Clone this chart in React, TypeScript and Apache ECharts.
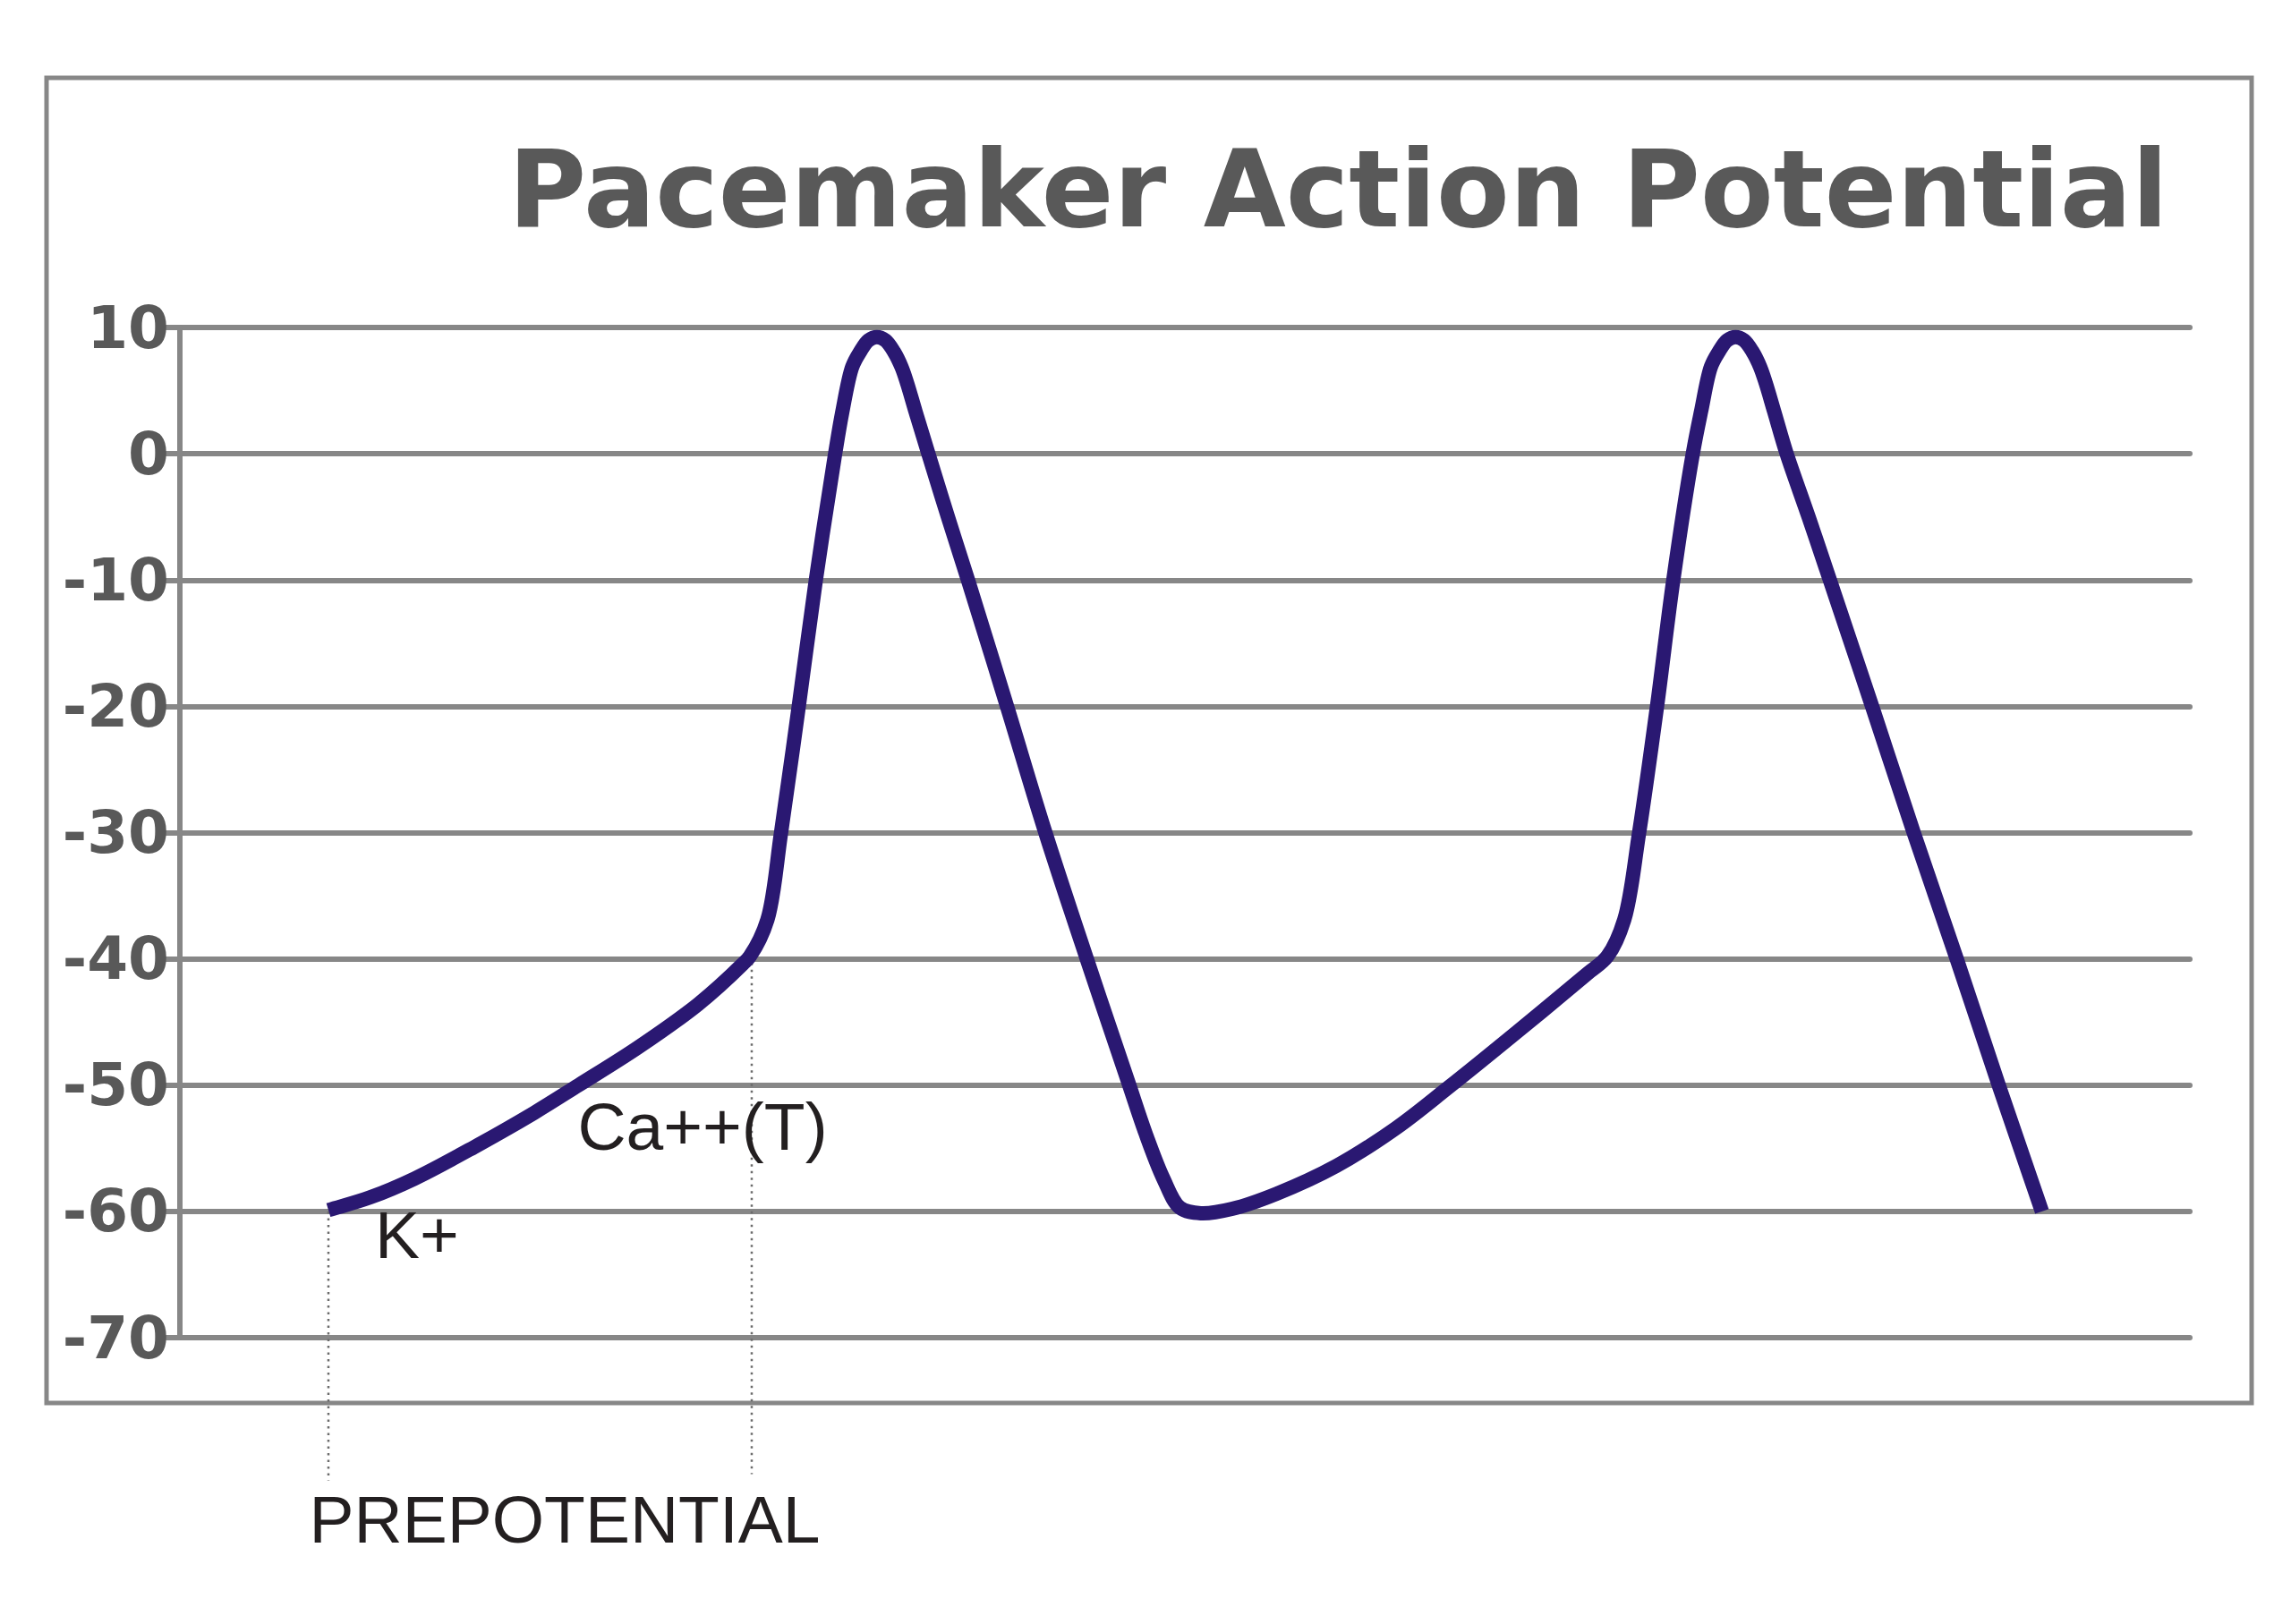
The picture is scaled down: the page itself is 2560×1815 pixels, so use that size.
import React, { useEffect, useRef } from "react";
import * as echarts from "echarts";

// Membrane potential (mV) versus time (arbitrary units, 0..1000 across the plot)
const timeUnits = [
  73.9, 94.5, 116.8, 146.5, 176.2, 198.4, 228.1, 257.8, 280.1, 283.6,
  292.3, 299.1, 307.9, 316.4, 326.0, 329.6, 334.5, 338.4, 342.6, 346.8,
  351.0, 355.3, 359.0, 361.8, 366.0, 372.4, 382.1, 392.1, 411.5, 430.6,
  451.2, 471.5, 480.4, 489.3, 497.5, 507.9, 523.5, 545.7, 575.4, 605.1,
  631.0, 664.4, 700.0, 710.2, 718.6, 726.0, 734.9, 743.0, 752.7, 756.8,
  761.7, 765.6, 769.8, 774.0, 778.2, 782.5, 786.2, 789.0, 793.2, 799.4,
  810.3, 820.9, 841.9, 862.6, 884.0, 904.9, 926.4,
];
const potential = [
  -59.9, -58.9, -57.4, -54.9, -52.2, -50.0, -47.0, -43.6, -40.4, -39.8,
  -36.9, -30, -20, -10, 0, 3.34, 6.88, 8.07, 8.98, 9.24,
  8.98, 8.07, 6.88, 5.6, 3.34, 0, -5, -10, -20, -30,
  -40, -49.6, -53.8, -57.4, -59.7, -60.15, -59.8, -58.6, -56.4, -53.4,
  -50.2, -45.9, -41.2, -39.8, -36.9, -30, -20, -10, 0, 3.34,
  6.88, 8.07, 8.98, 9.24, 8.98, 8.07, 6.88, 5.6, 3.34, 0,
  -5, -10, -20, -30, -40, -50, -60,
];

// Y axis ticks
const yMin = -70;
const yMax = 10;
const yStep = 10;

// Prepotential marker lines (time, top potential, bottom potential)
const markerTimes = [73.9, 284.5];
const markerTops = [-60, -39.8];
const markerBottoms = [-81.3, -80.8];

const titleText = "Pacemaker Action Potential";
const labelK = "K+";
const labelCa = "Ca++(T)";
const labelPre = "PREPOTENTIAL";

// Centripetal Catmull-Rom spline through screen points, as cubic Bezier path data
function splinePath(pts: number[][]): string {
  const n = pts.length;
  let d = `M${pts[0][0]},${pts[0][1]}`;
  const alpha = 0.5;
  for (let i = 0; i < n - 1; i++) {
    const p1 = pts[i];
    const p2 = pts[i + 1];
    const p0 = i > 0 ? pts[i - 1] : [2 * p1[0] - p2[0], 2 * p1[1] - p2[1]];
    const p3 = i < n - 2 ? pts[i + 2] : [2 * p2[0] - p1[0], 2 * p2[1] - p1[1]];
    const d1 = Math.pow(Math.hypot(p1[0] - p0[0], p1[1] - p0[1]), alpha) || 1e-6;
    const d2 = Math.pow(Math.hypot(p2[0] - p1[0], p2[1] - p1[1]), alpha) || 1e-6;
    const d3 = Math.pow(Math.hypot(p3[0] - p2[0], p3[1] - p2[1]), alpha) || 1e-6;
    const d1s = d1 * d1;
    const d2s = d2 * d2;
    const d3s = d3 * d3;
    const k1 = 3 * d1 * (d1 + d2);
    const k2 = 3 * d3 * (d3 + d2);
    const b1x = (d1s * p2[0] - d2s * p0[0] + (2 * d1s + 3 * d1 * d2 + d2s) * p1[0]) / k1;
    const b1y = (d1s * p2[1] - d2s * p0[1] + (2 * d1s + 3 * d1 * d2 + d2s) * p1[1]) / k1;
    const b2x = (d3s * p1[0] - d2s * p3[0] + (2 * d3s + 3 * d3 * d2 + d2s) * p2[0]) / k2;
    const b2y = (d3s * p1[1] - d2s * p3[1] + (2 * d3s + 3 * d3 * d2 + d2s) * p2[1]) / k2;
    d += ` C${b1x.toFixed(2)},${b1y.toFixed(2)} ${b2x.toFixed(2)},${b2y.toFixed(2)} ${p2[0].toFixed(2)},${p2[1].toFixed(2)}`;
  }
  return d;
}

export default function App() {
  const ref = useRef<HTMLDivElement>(null);

  useEffect(() => {
    if (!ref.current) return;
    const chart = echarts.init(ref.current, undefined, { renderer: "svg" });

    const mainData = timeUnits.map((t, i) => [t, potential[i]]);
    const markerSeries = markerTimes.map((t, i) => ({
      type: "line",
      data: [
        [t, markerTops[i]],
        [t, markerBottoms[i]],
      ],
      symbol: "none",
      clip: false,
      silent: true,
      z: 1,
      lineStyle: { color: "#6b6b6b", width: 2.5, type: [2.5, 5] },
    }));

    const gray = "#878787";
    const labelFont = "Liberation Sans, Arial, sans-serif";

    const textEl = (text: string, x: number, y: number) => ({
      type: "text",
      x,
      y,
      z: 10,
      style: {
        text,
        fill: "#231f20",
        font: `75px ${labelFont}`,
        align: "center",
        verticalAlign: "middle",
        textAlign: "center",
        textVerticalAlign: "middle",
      },
    });

    chart.setOption({
      animation: false,
      backgroundColor: "#ffffff",
      title: {
        text: titleText,
        left: 568,
        top: 152,
        padding: 0,
        textStyle: {
          fontFamily: "DejaVu Sans",
          fontWeight: "bold",
          fontSize: 119,
          lineHeight: 119,
          color: "#595959",
        },
      },
      grid: { left: 201, right: 113, top: 366, bottom: 320 },
      xAxis: { type: "value", min: 0, max: 1000, show: false },
      yAxis: {
        type: "value",
        min: yMin,
        max: yMax,
        interval: yStep,
        axisLine: { show: true, lineStyle: { color: gray, width: 6 } },
        axisTick: { show: true, length: 20, lineStyle: { color: gray, width: 6, cap: "round" } },
        axisLabel: {
          fontFamily: "DejaVu Sans",
          fontWeight: "bold",
          fontSize: 66,
          color: "#595959",
          margin: 12,
        },
        splitLine: { show: true, lineStyle: { color: gray, width: 6, cap: "round" } },
      },
      series: [
        ...markerSeries,
        {
          type: "custom",
          coordinateSystem: "cartesian2d",
          data: mainData,
          encode: { x: 0, y: 1 },
          clip: false,
          silent: true,
          z: 3,
          renderItem: (params: any, api: any) => {
            if (params.dataIndex !== 0) return null;
            const pts = mainData.map((d) => api.coord(d));
            return {
              type: "path",
              shape: { pathData: splinePath(pts) },
              style: {
                fill: "none",
                stroke: "#2a1872",
                lineWidth: 16,
                lineJoin: "round",
                lineCap: "butt",
              },
            };
          },
        },
      ],
      graphic: [
        {
          type: "rect",
          shape: { x: 52, y: 87, width: 2464, height: 1481 },
          style: { fill: "none", stroke: gray, lineWidth: 5 },
          z: 0,
          silent: true,
        },
        textEl(labelK, 466, 1380),
        textEl(labelCa, 785, 1259),
        textEl(labelPre, 631, 1698),
      ],
    });

    return () => {
      chart.dispose();
    };
  }, []);

  return (
    <div
      ref={ref}
      style={{ position: "fixed", left: 0, top: 0, width: 2560, height: 1815, background: "#fff" }}
    />
  );
}
